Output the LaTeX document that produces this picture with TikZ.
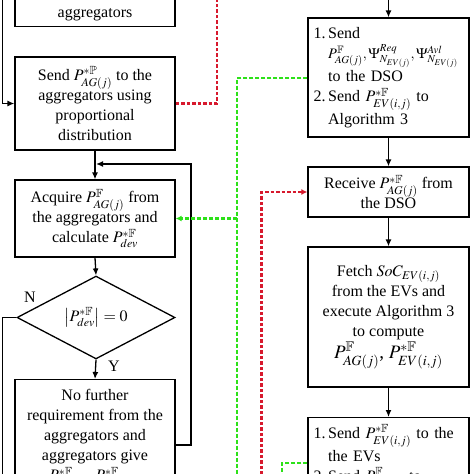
\documentclass[tikz,border=0pt]{standalone}
\usepackage{mathptmx}
\usepackage{amssymb}
\usepackage[no-math]{fontspec}
\setmainfont{Liberation Serif}
\usetikzlibrary{arrows.meta,shapes.geometric,calc}
\definecolor{dred}{RGB}{215,25,45}
\definecolor{dgreen}{RGB}{45,225,25}
\begin{document}
\begin{tikzpicture}[x=1pt,y=-1pt,
  font=\fontsize{16}{20}\selectfont,
  box/.style={draw,line width=1.3pt,minimum width=160pt,inner xsep=3pt,inner ysep=5pt,align=center},
  rbox/.style={draw,line width=1.3pt,minimum width=161pt,text width=150pt,inner xsep=5.5pt,inner ysep=5pt},
  flow/.style={line width=1.3pt,-{Latex[length=7pt,width=6pt]}},
  plain/.style={line width=1.3pt},
  reddash/.style={draw=dred,line width=2.4pt,dash pattern=on 3.5pt off 2pt},
  greendash/.style={draw=dgreen,line width=2.4pt,dash pattern=on 4pt off 2pt},
  dtip/.style={-{Latex[length=6pt,width=6pt]}}
]
\useasboundingbox (0,0) rectangle (474,474);
\clip (0,0) rectangle (474,474);
% ---------- left column ----------
\node[box,anchor=south,text height=40pt,text depth=4pt] (b1) at (95,27) {aggregators};
\node[box,minimum height=93pt] (b2) at (95,103.5)
  {Send $P^{*\mathbb{P}}_{AG(j)}$ to the\\aggregators using\\proportional\\distribution};
\node[box,minimum height=77pt] (b3) at (95,218.5)
  {Acquire $P^{\mathbb{F}}_{AG(j)}$ from\\the aggregators and\\calculate $P^{*\mathbb{F}}_{dev}$};
\node[draw,diamond,line width=1.3pt,minimum width=158pt,minimum height=65pt,inner sep=0pt] (dm) at (96,317.5)
  {$\left|P^{*\mathbb{F}}_{dev}\right|=0$};
\node[box,anchor=north,inner ysep=10pt] (b5) at (95,379)
  {No further\\requirement from the\\aggregators and\\aggregators give\\$P^{*\mathbb{F}}_{AG(j)}$, $P^{*\mathbb{F}}_{EV(i,j)}$};
\node (lN) at (30,297) {N};
\node (lY) at (114,366) {Y};
% left connectors
\coordinate (topL) at (2.5,0);
\coordinate (botL) at (2.5,480);
\draw[flow] (topL) |- (b2.west);
\draw[flow] (b2.south) -- (b3.north);
\draw[flow] (b3.south) -- (dm.north);
\draw[flow] (dm.south) -- (b5.north);
\draw[plain] (dm.west) -| (botL);
\coordinate (fbA) at ($(b5.north east)+(0,66)$);
\coordinate (fbB) at (191,164);
\draw[flow] (fbA) -- (fbA -| fbB) -- (fbB) -- (96,164);
% ---------- right column ----------
\node[rbox,minimum height=119pt] (bA) at (388.5,77.5)
  {\begin{tabular}{@{}l@{\,}l@{}}1. & Send\\ & {\fontsize{14.5}{20}\selectfont$P^{\mathbb{F}}_{AG(j)},\Psi^{Req}_{N_{EV(j)}},\Psi^{Avl}_{N_{EV(j)}}$}\\ & to the DSO\\2. & Send $P^{*\mathbb{F}}_{EV(i,j)}$ to\\ & Algorithm 3\end{tabular}};
\node[box,minimum width=161pt,minimum height=50pt] (bB) at (388.5,192)
  {Receive $P^{*\mathbb{F}}_{AG(j)}$ from\\the DSO};
\node[box,minimum width=161pt,minimum height=140pt] (bC) at (388.5,317)
  {Fetch $SoC_{EV(i,j)}$\\from the EVs and\\execute Algorithm 3\\to compute\\[2pt]{\fontsize{19}{22}\selectfont $P^{\mathbb{F}}_{AG(j)}$, $P^{*\mathbb{F}}_{EV(i,j)}$}};
\node[rbox,anchor=north,inner ysep=7pt] (bD) at (388.5,417)
  {\begin{tabular}{@{}l@{\,}l@{}}1. & Send $P^{*\mathbb{F}}_{EV(i,j)}$ to the\\ & the EVs\\2. & Send $P^{\mathbb{F}}_{AG(j)}$ to\end{tabular}};
\coordinate (topR) at (388.5,0);
\draw[flow] (topR) -- (bA.north);
\draw[flow] (bA.south) -- (bB.north);
\draw[flow] (bB.south) -- (bC.north);
\draw[flow] (bC.south) -- (bD.north);
% ---------- dashed links ----------
\coordinate (rTop) at (217,0);
\draw[reddash] (b2.east) -| (rTop);
\coordinate (rBot) at (261.5,480);
\draw[reddash,dtip] (rBot) |- (bB.west);
\coordinate (gBot) at (237,480);
\coordinate (gTop) at (237,78);
\draw[greendash] (bA.west |- gTop) -- (gTop) -- (gBot);
\draw[greendash,dtip] (gTop |- b3.east) -- (b3.east);
\coordinate (g2) at (282,463);
\draw[greendash] (bD.west |- g2) -- (g2) -- (282,480);
\end{tikzpicture}
\end{document}
